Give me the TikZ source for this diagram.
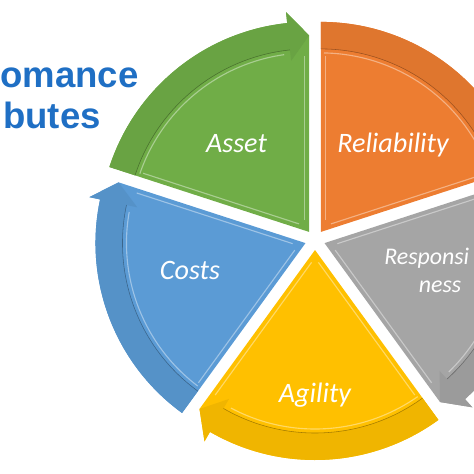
\documentclass[tikz,border=0pt]{standalone}
\usepackage{fontspec}
\usepackage{tikz}
\usetikzlibrary{calc}
\newfontfamily\labelfont{Carlito}
\newfontfamily\titlefont{Liberation Sans}
\definecolor{segGreen}{RGB}{112,173,71}
\definecolor{segOrange}{RGB}{237,125,49}
\definecolor{segGray}{RGB}{165,165,165}
\definecolor{segYellow}{RGB}{255,192,0}
\definecolor{segBlue}{RGB}{91,155,213}
\definecolor{titleBlue}{RGB}{31,111,196}
\tikzset{
  seglabel/.style={text=white, font=\labelfont\itshape\fontsize{20}{24}\selectfont, inner sep=0pt, anchor=base},
  smalllabel/.style={seglabel, font=\labelfont\itshape\fontsize{17}{20}\selectfont},
  titletext/.style={text=titleBlue, font=\titlefont\bfseries\fontsize{26}{30}\selectfont, inner sep=0pt, anchor=base west}
}
% #1 start angle (the segment runs 72 degrees clockwise), #2 colour
\newcommand{\segment}[2]{\begin{scope}[shift={(#1-36:1)}]
  \fill[#2] (0,0) -- (#1:21) arc(#1:#1-66:21) -- (#1-66:22.1) -- (#1-72:19.65) -- cycle;
  \fill[#2!94!black] (#1:18.3) -- (#1:21) arc(#1:#1-66:21) -- (#1-66:22.1) -- (#1-72:19.65) -- (#1-66:17.2) -- (#1-66:18.3) arc(#1-66:#1:18.3) -- cycle;
  \draw[#2!65!black, thin] (#1:18.3) arc(#1:#1-66:18.3);
  \draw[#2!60!white, thick] (#1-1:17.9) arc(#1-1:#1-64:17.9);
  \draw[#2!60!white, thick] ($(#1:1.2)+(#1-90:0.45)$) -- ($(#1:17.6)+(#1-90:0.45)$);
  \draw[#2!60!white, thick] ($(#1-72:1.2)+(#1+18:0.45)$) -- ($(#1-72:17.6)+(#1+18:0.45)$);
\end{scope}}

\begin{document}
\begin{tikzpicture}[scale=0.25]
  \useasboundingbox (-31.5,-23.4) rectangle (15.9,24);
  \clip (-31.5,-23.4) rectangle (15.9,24);
  % segments
  \segment{162}{segGreen}
  \segment{90}{segOrange}
  \segment{18}{segGray}
  \segment{-54}{segYellow}
  \segment{-126}{segBlue}
  % labels
  \node[seglabel] (asset) at (-7.85,8.8) {Asset};
  \node[seglabel] (reliability) at (7.8,8.8) {Reliability};
  \node[smalllabel, anchor=base west] (respA) at (6.9,-2.4) {Responsi};
  \node[smalllabel] (respB) at (12.5,-5.2) {ness};
  \node[seglabel] (agility) at (0,-16.2) {Agility};
  \node[seglabel] (costs) at (-12.5,-3.9) {Costs};
  % title
  \node[titletext] (titleA) at (-31.5,15.3) {omance};
  \node[titletext] (titleB) at (-31.2,11.2) {butes};
\end{tikzpicture}
\end{document}
